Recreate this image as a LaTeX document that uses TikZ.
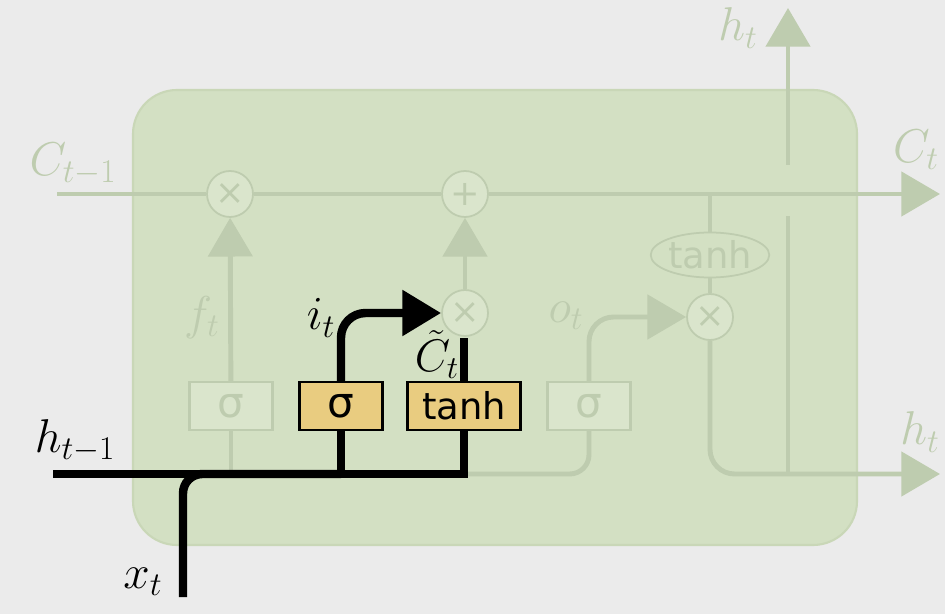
\RequirePackage{fix-cm}
\documentclass[tikz,border=0pt]{standalone}
\usepackage{fontspec}
\newfontfamily\gatefont{DejaVu Sans}
\usetikzlibrary{arrows.meta}
\usetikzlibrary{shapes.geometric}

\definecolor{paper}{RGB}{235,235,235}
\definecolor{cellgreen}{RGB}{211,224,195}
\definecolor{cellrim}{RGB}{201,215,183}
\definecolor{fadegreen}{RGB}{190,204,175}
\definecolor{gategold}{RGB}{233,204,128}

\begin{document}
\begin{tikzpicture}[x=0.02cm,y=-0.02cm,
    fadeline/.style={line width=2.8pt,draw=fadegreen},
    fadearrow/.style={fadeline,-{Triangle[length=22pt,width=25pt]}},
    hiline/.style={line width=4.8pt,draw=black},
    hiarrow/.style={hiline,-{Triangle[length=22pt,width=25pt]}},
    opcirc/.style={circle,draw=fadegreen,line width=1pt,fill=cellgreen!85!white,minimum size=0.92cm,inner sep=0pt,text=fadegreen,font=\gatefont\fontsize{20}{24}\selectfont},
    fadegate/.style={rectangle,draw=fadegreen,line width=1.2pt,fill=cellgreen!85!white,minimum width=1.66cm,minimum height=0.96cm,inner sep=0pt,text=fadegreen,font=\gatefont\fontsize{24}{28}\selectfont},
    higate/.style={rectangle,draw=black,line width=1.3pt,fill=gategold,minimum width=1.66cm,minimum height=0.95cm,inner sep=0pt,font=\gatefont\fontsize{24}{28}\selectfont},
    fadelabel/.style={text=fadegreen,inner sep=0pt,font=\fontsize{27}{32}\selectfont},
    hilabel/.style={text=black,inner sep=0pt,font=\fontsize{27}{32}\selectfont}]
        \fill[paper] (0,0) rectangle (945,614);
        \draw[cellrim,fill=cellgreen,line width=1.2pt,rounded corners=25pt] (133,90) rectangle (857,545);

        % points where the lines come in and go out
        \coordinate (cin) at (57,194);
        \coordinate (cout) at (940,194);
        \coordinate (hin) at (53,474);
        \coordinate (hout) at (940,474);
        \coordinate (xin) at (183,597);
        \coordinate (htop) at (788,8);
        \coordinate (hsplit) at (788,474);
        \coordinate (hgapa) at (788,216);
        \coordinate (hgapb) at (788,165);
        \coordinate (ctil) at (464,338);

        % pointwise operations
        \node[opcirc] (fx) at (230,194) {×};
        \node[opcirc] (plus) at (465,194) {+};
        \node[opcirc] (ix) at (465,313) {×};
        \node[opcirc] (ox) at (710,317) {×};
        \node[ellipse,draw=fadegreen,line width=1pt,fill=cellgreen,minimum width=2.24cm,minimum height=0.9cm,inner sep=0pt,text=fadegreen,font=\gatefont\fontsize{21}{25}\selectfont] (tanhC) at (710,255) {tanh};

        % gates
        \node[fadegate] (fgate) at (231,406) {σ};
        \node[higate] (igate) at (341,406) {σ};
        \node[higate,minimum width=2.26cm,font=\gatefont\fontsize{21}{25}\selectfont] (cgate) at (464,406) {tanh};
        \node[fadegate] (ogate) at (589,406) {σ};

        % faded paths
        \draw[fadeline] (cin) -- (fx);
        \draw[fadeline] (fx) -- (plus);
        \draw[fadearrow] (plus) -- (cout);
        \draw[fadeline] (fgate |- hin) -- (fgate);
        \draw[fadearrow] (fgate) -- (fx);
        \draw[fadearrow] (ix) -- (plus);
        \draw[fadeline,rounded corners=11pt] (cgate |- hin) -- (ogate |- hin) -- (ogate);
        \draw[fadearrow,rounded corners=14pt] (ogate) |- (ox);
        \draw[fadeline] (tanhC |- cin) -- (tanhC);
        \draw[fadeline] (tanhC) -- (ox);
        \draw[fadearrow,rounded corners=14pt] (ox) |- (hout);
        \draw[fadeline] (hsplit) -- (hgapa);
        \draw[fadearrow] (hgapb) -- (htop);

        % input gate paths
        \draw[hiline] (hin) -- (cgate |- hin) -- (cgate);
        \draw[hiline] (cgate) -- (ctil);
        \draw[hiline,rounded corners=11pt] (xin) |- (igate |- hin);
        \draw[hiline] (igate |- hin) -- (igate);
        \draw[hiarrow,rounded corners=14pt] (igate) |- (ix);

        % labels
        \node[fadelabel] (lcin) at (73,164) {$C_{t-1}$};
        \node[fadelabel] (lcout) at (916,150) {$C_t$};
        \node[fadelabel] (lhtop) at (738,28) {$h_t$};
        \node[fadelabel] (lhout) at (920,432) {$h_t$};
        \node[fadelabel] (lf) at (202,318) {$f_t$};
        \node[fadelabel] (lo) at (566,316) {$o_t$};
        \node[hilabel] (li) at (321,318) {$i_t$};
        \node[hilabel,anchor=south,font=\fontsize{26}{30}\selectfont] (lctil) at (437,379) {$\tilde{C}_t$};
        \node[hilabel] (lhin) at (75,441) {$h_{t-1}$};
        \node[hilabel] (lx) at (143,582) {$x_t$};
    \end{tikzpicture}
\end{document}
